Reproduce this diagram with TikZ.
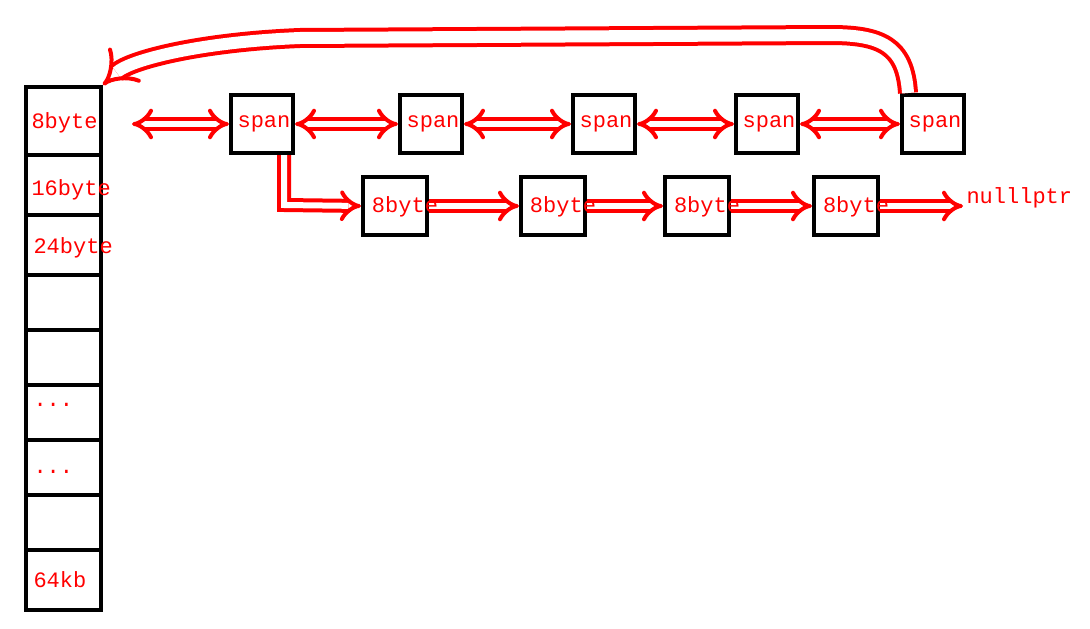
\documentclass[tikz,border=0pt]{standalone}
\usepackage{fontspec}
\setmonofont{Liberation Mono}
\usetikzlibrary{arrows.meta}
\begin{document}
\begin{tikzpicture}[x=1pt,y=-1pt,
  box/.style={draw=black,line width=4pt,minimum width=62pt,minimum height=58pt,inner sep=0pt},
  cell/.style={draw=black,line width=4pt,minimum width=75pt,inner sep=0pt},
  lbl/.style={text=red,font=\ttfamily\fontsize{22}{22}\selectfont},
  harrow/.style={draw=red,line width=4pt,double=white,double distance=6pt},
  dbl/.style={harrow,{Implies}-{Implies}},
  sgl/.style={harrow,-{Implies}}]
\useasboundingbox (0,0) rectangle (1090,629);
% column
\foreach \a/\b/\n in {87/155/c1,155/215/c2,215/275/c3,275/330/c4,330/385/c5,385/440/c6,440/495/c7,495/550/c8,550/610/c9}{
  \node[cell,minimum height={\b-\a}] (\n) at (63.5,{(\a+\b)/2}) {};
}
% spans
\foreach \x/\n in {262/s1,431/s2,604/s3,767/s4,933/s5}{
  \node[box] (\n) at (\x,124) {};
}
\coordinate (s0) at (132,124);
\draw[dbl] (s0) -- (s1.west);
\draw[dbl] (s1.east) -- (s2.west);
\draw[dbl] (s2.east) -- (s3.west);
\draw[dbl] (s3.east) -- (s4.west);
\draw[dbl] (s4.east) -- (s5.west);
% byte row
\foreach \x/\n in {395/b1,553/b2,697/b3,846/b4}{
  \node[box,minimum width=64pt] (\n) at (\x,206) {};
}
\node[lbl,anchor=west] (np) at (963,198) {nulllptr};
\draw[sgl] ([xshift=22pt]s1.south) -- ++(0,50) -- (b1.west);
\draw[sgl] (b1.east) -- (b2.west);
\draw[sgl] (b2.east) -- (b3.west);
\draw[sgl] (b3.east) -- (b4.west);
\draw[sgl] (b4.east) -- (b4.east -| np.west);
% top loop
\draw[harrow,double distance=12pt,-{Implies}] ([xshift=-25pt]s5.north) .. controls (905,45) and (880,35) .. (830,35)
  -- (300,38) .. controls (200,42) and (130,60) .. (c1.north east);
% labels
\node[lbl,anchor=west] at (28,123) {8byte};
\node[lbl,anchor=west] at (28,190) {16byte};
\node[lbl,anchor=west] at (30,248) {24byte};
\node[lbl,anchor=west] at (30,405) {...};
\node[lbl,anchor=west] at (30,472) {...};
\node[lbl,anchor=west] at (30,580) {64kb};
\foreach \n in {s1,s2,s3,s4,s5}{\node[lbl] at ([xshift=2pt]\n) {span};}
\foreach \n in {b1,b2,b3,b4}{\node[lbl] at ([xshift=10pt,yshift=-1pt]\n) {8byte};}
\end{tikzpicture}
\end{document}
